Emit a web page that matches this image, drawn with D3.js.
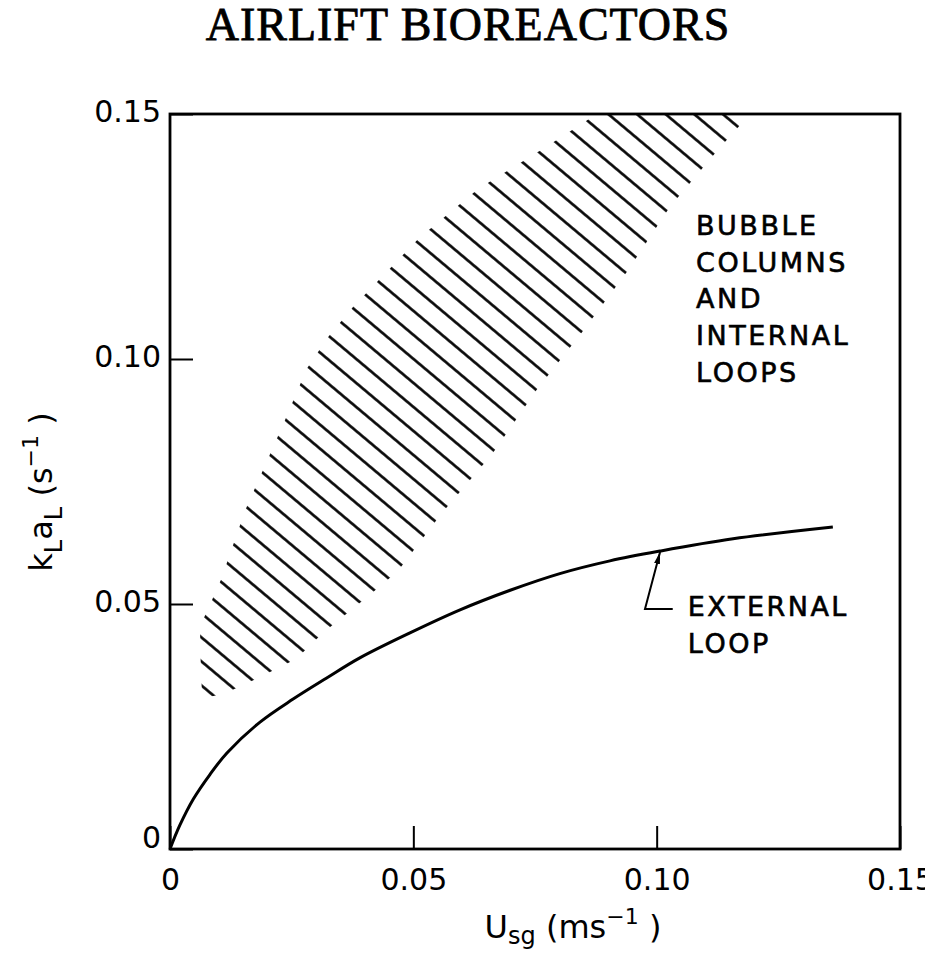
<!DOCTYPE html>
<html>
<head>
  <meta charset="utf-8">
  <title>Airlift Bioreactors</title>
  <script src="https://d3js.org/d3.v7.min.js"></script>
  <style>
    body { margin: 0; background: #fff; }
    svg { display: block; }
    .tick text { font-family: "DejaVu Sans", sans-serif; font-size: 30px; fill: #000; }
    .note { font-family: "DejaVu Sans", sans-serif; font-size: 27px; letter-spacing: 2.5px; fill: #000; stroke: #000; stroke-width: 0.6px; }
    .axis-title { font-family: "DejaVu Sans", sans-serif; font-size: 32px; fill: #000; }
    .title { font-family: "Liberation Serif", serif; font-size: 46px; letter-spacing: 1px; fill: #000; stroke: #000; stroke-width: 0.8px; }
  </style>
</head>
<body>
<script>
  // tick values and labels
  const xTicks = [0, 0.05, 0.10, 0.15];
  const xTickLabels = ["0", "0.05", "0.10", "0.15"];
  const yTicks = [0, 0.05, 0.10, 0.15];
  const yTickLabels = ["0", "0.05", "0.10", "0.15"];

  // external loop curve
  const extX = [0, 0.002, 0.0048, 0.0082, 0.0117, 0.0185, 0.0253, 0.0322, 0.039, 0.0493, 0.0596, 0.0699, 0.0801, 0.0904, 0.1007, 0.1157, 0.1362];
  const extY = [0, 0.0048, 0.0102, 0.0152, 0.0196, 0.0259, 0.0306, 0.0349, 0.039, 0.0441, 0.0488, 0.0528, 0.0562, 0.0588, 0.0608, 0.0633, 0.0657];

  // bubble column / internal loop band: upper-left edge and lower-right edge
  const bandUpperX = [0.0066, 0.0062, 0.0062, 0.008, 0.0105, 0.0154, 0.0234, 0.0281, 0.0325, 0.0376, 0.0512, 0.0633, 0.077, 0.0877];
  const bandUpperY = [0.0308, 0.041, 0.0455, 0.0494, 0.055, 0.069, 0.087, 0.098, 0.1045, 0.1106, 0.1247, 0.1347, 0.1431, 0.15];
  const bandLowerX = [0.0066, 0.0109, 0.0185, 0.0259, 0.0314, 0.0407, 0.0468, 0.0559, 0.0662, 0.0752, 0.0847, 0.0939, 0.1027, 0.1126, 0.1192];
  const bandLowerY = [0.0308, 0.0316, 0.0351, 0.0388, 0.0441, 0.0516, 0.0567, 0.0686, 0.0806, 0.0935, 0.1055, 0.1178, 0.131, 0.1427, 0.15];

  // leader arrow for "EXTERNAL LOOP"
  const arrowX = [0.1033, 0.0976, 0.1007];
  const arrowY = [0.049, 0.049, 0.0606];

  const W = 925, H = 953;
  const svg = d3.select("body").append("svg")
    .attr("width", W).attr("height", H);

  svg.append("rect").attr("width", W).attr("height", H).attr("fill", "#fff");

  const x = d3.scaleLinear().domain([0, 0.15]).range([170, 900]);
  const y = d3.scaleLinear().domain([0, 0.15]).range([849, 114]);

  // title
  svg.append("text").attr("class", "title")
    .attr("x", 468).attr("y", 40)
    .attr("text-anchor", "middle")
    .text("AIRLIFT BIOREACTORS");

  // hatch pattern
  const defs = svg.append("defs");
  const pat = defs.append("pattern")
    .attr("id", "hatch")
    .attr("patternUnits", "userSpaceOnUse")
    .attr("width", 20).attr("height", 18.4)
    .attr("patternTransform", "rotate(40)");
  pat.append("line")
    .attr("x1", 0).attr("x2", 20)
    .attr("y1", 9.2).attr("y2", 9.2)
    .attr("stroke", "#000").attr("stroke-width", 2.6);

  defs.append("marker")
    .attr("id", "arrow")
    .attr("viewBox", "0 0 12 6")
    .attr("refX", 12).attr("refY", 3)
    .attr("markerWidth", 12).attr("markerHeight", 6)
    .attr("markerUnits", "userSpaceOnUse")
    .attr("orient", "auto")
    .append("path").attr("d", "M0,0 L12,3 L0,6 Z").attr("fill", "#000");

  // band polygon
  const bandPts = bandUpperX.map((v, i) => [v, bandUpperY[i]])
    .concat(bandLowerX.map((v, i) => [v, bandLowerY[i]]).reverse());
  svg.append("path")
    .attr("d", d3.line().x(d => x(d[0])).y(d => y(d[1])).curve(d3.curveLinearClosed)(bandPts))
    .attr("fill", "url(#hatch)")
    .attr("stroke", "none");

  // external loop curve
  const extPts = extX.map((v, i) => [v, extY[i]]);
  svg.append("path")
    .attr("d", d3.line().x(d => x(d[0])).y(d => y(d[1])).curve(d3.curveCatmullRom.alpha(0.5))(extPts))
    .attr("fill", "none")
    .attr("stroke", "#000")
    .attr("stroke-width", 3);

  // axes (ticks point inward)
  const xAxis = svg.append("g")
    .attr("transform", "translate(0," + y(0) + ")")
    .call(d3.axisBottom(x).tickValues(xTicks).tickSize(-23).tickPadding(20)
      .tickFormat((d, i) => xTickLabels[i]));
  const yAxis = svg.append("g")
    .attr("transform", "translate(" + x(0) + ",0)")
    .call(d3.axisLeft(y).tickValues(yTicks).tickSize(-23).tickPadding(9)
      .tickFormat((d, i) => yTickLabels[i]));
  [xAxis, yAxis].forEach(a => {
    a.select(".domain").remove();
    a.attr("font-family", null).attr("font-size", null);
    a.selectAll(".tick line").attr("stroke", "#000").attr("stroke-width", 2);
  });
  yAxis.selectAll(".tick text").attr("dy", (d) => d === 0 ? "-0.05em" : "0.25em");

  // frame
  svg.append("rect")
    .attr("x", x(0)).attr("y", y(0.15))
    .attr("width", x(0.15) - x(0)).attr("height", y(0) - y(0.15))
    .attr("fill", "none").attr("stroke", "#000").attr("stroke-width", 2.8);

  // leader arrow
  const arrowPts = arrowX.map((v, i) => [v, arrowY[i]]);
  svg.append("path")
    .attr("d", d3.line().x(d => x(d[0])).y(d => y(d[1]))(arrowPts))
    .attr("fill", "none").attr("stroke", "#000").attr("stroke-width", 2)
    .attr("marker-end", "url(#arrow)");

  // annotations
  const bubbleLines = ["BUBBLE", "COLUMNS", "AND", "INTERNAL", "LOOPS"];
  svg.append("g").selectAll("text").data(bubbleLines).join("text")
    .attr("class", "note")
    .attr("x", x(0.1081))
    .attr("y", (d, i) => y(0.1253) + i * 36.7)
    .text(d => d);
  const extLines = ["EXTERNAL", "LOOP"];
  svg.append("g").selectAll("text").data(extLines).join("text")
    .attr("class", "note")
    .attr("x", x(0.1064))
    .attr("y", (d, i) => y(0.0476) + i * 37)
    .text(d => d);

  // axis titles
  const xt = svg.append("text").attr("class", "axis-title")
    .attr("x", 573).attr("y", 938).attr("text-anchor", "middle");
  xt.append("tspan").text("U");
  xt.append("tspan").attr("dy", 6).attr("font-size", 24).text("sg");
  xt.append("tspan").attr("dy", -6).text(" (ms");
  xt.append("tspan").attr("dy", -14).attr("font-size", 22).text("−1");
  xt.append("tspan").attr("dy", 14).text(" )");

  const yt = svg.append("text").attr("class", "axis-title")
    .attr("transform", "translate(52,492) rotate(-90)")
    .attr("text-anchor", "middle");
  yt.append("tspan").text("k");
  yt.append("tspan").attr("dy", 10).attr("font-size", 24).text("L");
  yt.append("tspan").attr("dy", -10).text("a");
  yt.append("tspan").attr("dy", 10).attr("font-size", 24).text("L");
  yt.append("tspan").attr("dy", -10).text("  (s");
  yt.append("tspan").attr("dy", -14).attr("font-size", 22).text("−1");
  yt.append("tspan").attr("dy", 14).text(" )");
</script>
</body>
</html>
